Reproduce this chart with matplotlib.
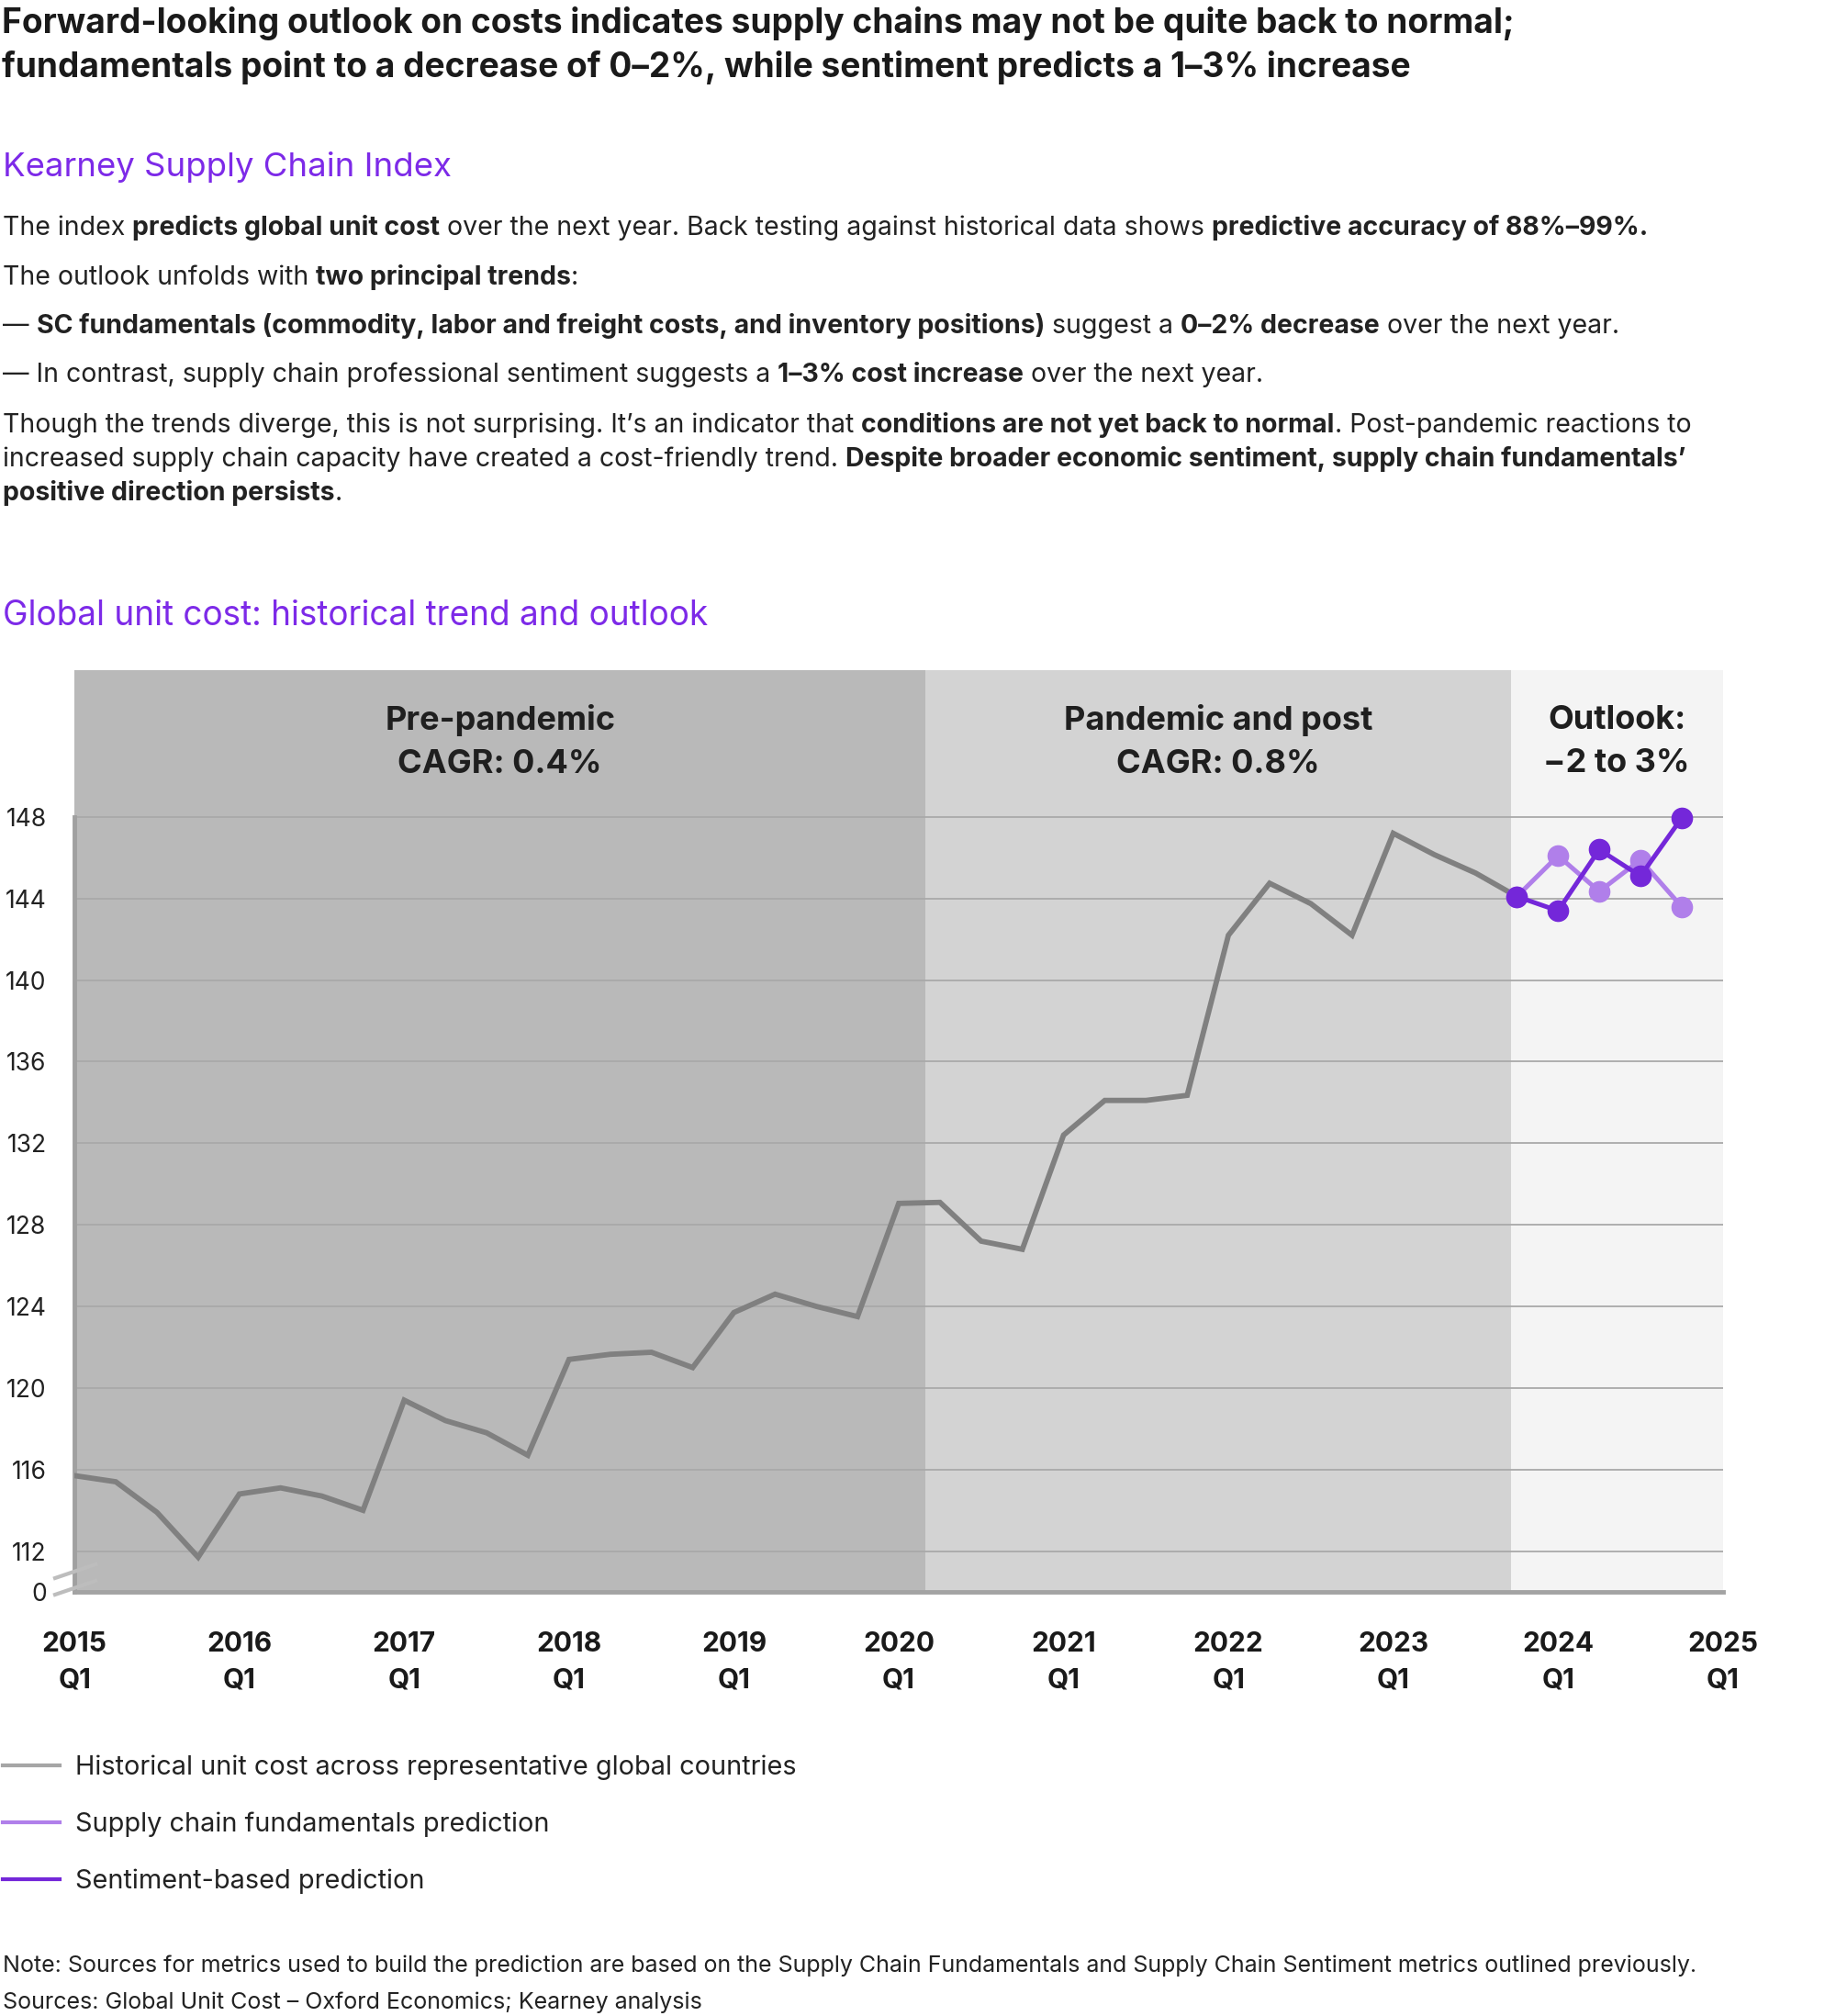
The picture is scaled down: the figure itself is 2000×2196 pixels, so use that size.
import matplotlib
matplotlib.use('Agg')
from matplotlib import pyplot as plt
from matplotlib.lines import Line2D
import numpy as np

# ---- data (quarter index 0 = 2015 Q1) ----
historical = [115.7, 115.4, 113.9, 111.7, 114.8, 115.1, 114.7, 114.0,
              119.4, 118.4, 117.8, 116.7, 121.4, 121.65, 121.75, 121.0,
              123.7, 124.6, 124.0, 123.5, 129.05, 129.1, 127.2, 126.8,
              132.4, 134.1, 134.1, 134.35, 142.2, 144.75, 143.75, 142.2,
              147.2, 146.15, 145.25, 144.1]
fundamentals = [144.1, 146.1, 144.35, 145.9, 143.6]
sentiment = [144.1, 143.4, 146.4, 145.1, 147.95]
outlook_start = 35

years = list(range(2015, 2026))
ytick_vals = [110, 112, 116, 120, 124, 128, 132, 136, 140, 144, 148]
ytick_labels = ['0', '112', '116', '120', '124', '128', '132', '136', '140', '144', '148']

regions = [(0, 20.65, '#b9b9b9', 'Pre-pandemic\nCAGR: 0.4%'),
           (20.65, 34.85, '#d3d3d3', 'Pandemic and post\nCAGR: 0.8%'),
           (34.85, 40, '#f4f4f4', 'Outlook:\n\u22122 to 3%')]

FONT = ['Inter', 'DejaVu Sans']
plt.rcParams['font.family'] = FONT
TXT = '#222222'
PURPLE = '#7427d9'
LIGHT_PURPLE = '#b07fea'
HEAD = '#7d2ae8'

W, H = 2000, 2196
fig = plt.figure(figsize=(W / 100, H / 100), dpi=100)
renderer = fig.canvas.get_renderer()


def fx(px):
    return px / W


def fy(px):
    return 1 - px / H


def text_width(s, size, weight):
    t = fig.text(0, 0, s, fontsize=size, fontweight=weight)
    w = t.get_window_extent(renderer).width
    t.remove()
    return w


def rich_line(x, y, parts, size, color=TXT):
    # parts: list of (string, bold) drawn one after the other on a baseline
    for s, bold in parts:
        weight = 'bold' if bold else 'normal'
        sp = text_width('n n', size, weight) - text_width('nn', size, weight)
        lead = len(s) - len(s.lstrip(' '))
        trail = len(s) - len(s.rstrip(' '))
        x += lead * sp
        core = s.strip(' ')
        if core:
            t = fig.text(fx(x), fy(y), core, fontsize=size, fontweight=weight,
                         color=color, va='baseline', ha='left')
            x += t.get_window_extent(renderer).width
        x += trail * sp
    return x


# ---- header text ----
fig.text(fx(2), fy(36), 'Forward-looking outlook on costs indicates supply chains may not be quite back to normal;',
         fontsize=26.7, fontweight='bold', color='#1a1a1a', va='baseline')
fig.text(fx(2), fy(84), 'fundamentals point to a decrease of 0\u20132%, while sentiment predicts a 1\u20133% increase',
         fontsize=26.7, fontweight='bold', color='#1a1a1a', va='baseline')

fig.text(fx(3), fy(192), 'Kearney Supply Chain Index', fontsize=26.3, color=HEAD, va='baseline')

body = [
    (256, [('The index ', False), ('predicts global unit cost', True),
           (' over the next year. Back testing against historical data shows ', False),
           ('predictive accuracy of 88%\u201399%.', True)]),
    (310, [('The outlook unfolds with ', False), ('two principal trends', True), (':', False)]),
    (363, [('\u2014 ', False), ('SC fundamentals (commodity, labor and freight costs, and inventory positions)', True),
           (' suggest a ', False), ('0\u20132% decrease', True), (' over the next year.', False)]),
    (416, [('\u2014 In contrast, supply chain professional sentiment suggests a ', False),
           ('1\u20133% cost increase', True), (' over the next year.', False)]),
    (471, [('Though the trends diverge, this is not surprising. It\u2019s an indicator that ', False),
           ('conditions are not yet back to normal', True), ('. Post-pandemic reactions to', False)]),
    (508, [('increased supply chain capacity have created a cost-friendly trend. ', False),
           ('Despite broader economic sentiment, supply chain fundamentals\u2019', True)]),
    (545, [('positive direction persists', True), ('.', False)]),
]
for y, parts in body:
    rich_line(3, y, parts, 20.5)

fig.text(fx(3), fy(681), 'Global unit cost: historical trend and outlook', fontsize=26.6, color=HEAD, va='baseline')

# ---- chart ----
ax = fig.add_axes([fx(81.2), fy(1734), fx(1876.8) - fx(81.2), fy(730) - fy(1734)])
ax.set_xlim(0, 40)
ax.set_ylim(110, 155.2)

for x0, x1, col, label in regions:
    ax.axvspan(x0, x1, color=col, lw=0, zorder=0)
    ax.text((x0 + x1) / 2, 151.7, label, ha='center', va='center', fontsize=26,
            fontweight='bold', color='#1f1f1f', linespacing=1.55, zorder=5)

ax.hlines(ytick_vals[1:], 0, 40, colors='#a9a9a9', lw=1.3, zorder=1)

q_hist = np.arange(len(historical))
ax.plot(q_hist, historical, color='#808080', lw=4.2, solid_joinstyle='miter', zorder=3)

q_out = np.arange(outlook_start, outlook_start + len(fundamentals))
ax.plot(q_out, fundamentals, color=LIGHT_PURPLE, lw=3.6, marker='o', ms=16, zorder=4)
ax.plot(q_out, sentiment, color=PURPLE, lw=3.6, marker='o', ms=16, zorder=4.5)

for side in ['top', 'right']:
    ax.spines[side].set_visible(False)
ax.spines['left'].set_bounds(110, 148)
ax.spines['left'].set_color('#a0a0a0')
ax.spines['left'].set_linewidth(3.5)
ax.spines['bottom'].set_color('#a3a3a3')
ax.spines['bottom'].set_linewidth(3.5)

ax.set_yticks(ytick_vals)
ax.set_yticklabels(ytick_labels, fontsize=19, color=TXT)
ax.tick_params(axis='y', length=0, pad=22)

ax.set_xticks([4 * i for i in range(len(years))])
ax.set_xticklabels([f'{y}\nQ1' for y in years], fontsize=21.5, fontweight='bold',
                   color='#1a1a1a', linespacing=1.5)
ax.tick_params(axis='x', length=0, pad=31)

# axis break marks
for yb in (1704, 1722):
    fig.add_artist(Line2D([fx(60), fx(104)], [fy(yb + 15), fy(yb)], color='#bdbdbd', lw=3))

# ---- legend ----
legend_items = [('Historical unit cost across representative global countries', '#a6a6a6', 1922.7),
                ('Supply chain fundamentals prediction', LIGHT_PURPLE, 1985),
                ('Sentiment-based prediction', PURPLE, 2046.7)]
for label, col, y in legend_items:
    fig.add_artist(Line2D([fx(3), fx(65)], [fy(y), fy(y)], color=col, lw=3))
    fig.text(fx(82), fy(y + 10), label, fontsize=20.8, color=TXT, va='baseline')

fig.text(fx(3), fy(2147.7), 'Note: Sources for metrics used to build the prediction are based on the Supply Chain '
         'Fundamentals and Supply Chain Sentiment metrics outlined previously.', fontsize=18.0, color=TXT, va='baseline')
fig.text(fx(3), fy(2188.3), 'Sources: Global Unit Cost \u2013 Oxford Economics; Kearney analysis',
         fontsize=18.0, color=TXT, va='baseline')

fig.savefig('out.png', dpi=100)
